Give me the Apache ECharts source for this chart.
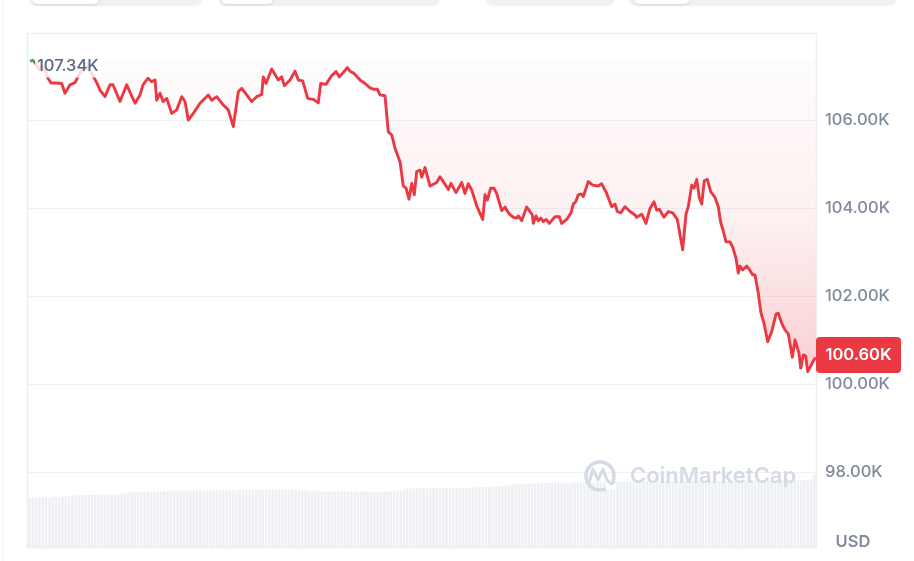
<!DOCTYPE html>
<html><head><meta charset="utf-8">
<script src="https://cdn.jsdelivr.net/npm/echarts@6/dist/echarts.min.js"></script>
<style>html,body{margin:0;padding:0;background:#fff;}#c{width:914px;height:561px;}</style>
</head><body><div id="c"></div>
<script>
// time index across the 24h window (0 = start, 786 = now)
const tIdx = [0,3,6,9,12,15,18,21,26,31.7,35,40,45,50,56.7,61.7,66.7,70,75,80,
83,90,96.7,105,110,113,118,121.7,125,126.7,130,133,136.7,141.7,146.7,151.7,155,158.3,163.3,170,
178.3,181.7,186.7,193.3,198.3,203.3,208.3,211.7,216.7,221.7,226.7,231.7,233.3,236,241.7,248.3,251.7,254.3,260,265,
268.3,272.7,277.7,283.3,288.3,290.7,296,301.7,306,309.3,313.3,317.3,320,324,330,335,340,343.3,347.3,350,
355,358.3,361.7,365,370,373.3,376,379,381.7,384.3,386.7,390,391.7,395,400,406.7,410,413.3,418.3,421,
426,431.7,435,438.3,441.7,446.7,452.7,455,457.3,460.7,464,466.7,471.7,475,479.3,483.3,486.7,488.3,491.7,496.7,
500,502.3,503.3,506,508.3,510.7,513.3,516,519.3,525,529.3,531.7,536.7,541,543.3,545.7,548.3,551,553.3,558.3,
562.7,568.3,571.7,576.7,581.7,585,587.3,590.7,595,600,605,606.7,611.7,616,620,624,626.7,629.3,634,638.3,
642.7,647.3,652.7,656,658.3,661.7,664,666.7,669.3,671.7,674.3,677.3,680.7,685,688.3,690.7,693,696,700,702.7,
706,708.3,710,712.7,716.7,720,722.7,725,728.3,731,734,737.7,741.7,746,748.3,751.7,755,758.3,760,762.3,
765,769,770.7,773.3,775.7,777.7,780.7,784,786];
// price in thousands USD
const prices = [107.34,107.36,107.27,107.14,107.23,107.14,106.95,106.84,106.84,106.83,106.61,106.80,106.85,107.07,107.21,107.06,106.85,106.68,106.53,106.80,
106.80,106.42,106.80,106.38,106.57,106.80,106.95,106.87,106.91,106.45,106.61,106.42,106.49,106.15,106.23,106.53,106.42,106.00,106.15,106.38,
106.57,106.45,106.53,106.34,106.23,105.85,106.64,106.72,106.57,106.42,106.53,106.58,106.98,106.83,107.16,106.91,106.98,106.78,106.91,107.11,
106.91,106.89,106.49,106.47,106.39,106.83,106.81,107.01,107.10,106.98,107.08,107.19,107.11,107.06,106.91,106.83,106.73,106.70,106.70,106.57,
106.55,105.73,105.66,105.36,105.05,104.50,104.45,104.20,104.56,104.30,104.83,104.86,104.70,104.92,104.50,104.58,104.71,104.60,104.42,104.56,
104.35,104.58,104.33,104.55,104.41,104.05,103.74,104.30,104.18,104.45,104.45,104.33,103.94,104.02,103.86,103.79,103.77,103.82,103.71,104.02,
103.92,103.84,103.65,103.82,103.71,103.77,103.69,103.74,103.65,103.80,103.80,103.65,103.74,103.89,104.09,104.14,104.30,104.32,104.26,104.60,
104.52,104.50,104.55,104.33,104.03,104.09,103.92,103.89,104.03,103.92,103.84,103.79,103.86,103.65,103.99,104.14,103.95,103.97,103.79,103.92,
103.89,103.74,103.05,103.86,104.03,104.52,104.45,104.65,104.24,104.09,104.62,104.65,104.37,104.24,104.03,103.67,103.50,103.23,103.23,103.11,
102.86,102.52,102.68,102.59,102.68,102.58,102.48,102.48,102.06,101.61,101.38,100.96,101.19,101.59,101.61,101.38,101.23,101.14,101.15,100.61,
101.00,100.70,100.36,100.66,100.64,100.28,100.41,100.55,100.60];
// 24h volume bars (billions USD)
const volumes = [29.4,29.6,29.5,29.7,30.0,29.8,29.6,30.2,30.3,29.9,30.4,30.3,
30.8,31.0,31.1,30.9,31.2,31.3,31.1,31.4,31.2,31.6,31.5,31.3,31.6,31.5,31.7,31.5,31.8,31.7,
32.6,32.8,32.9,33.0,32.8,33.1,33.2,33.0,33.1,33.3,33.2,33.4,
33.6,33.8,33.9,33.7,34.0,33.9,34.1,33.8,34.0,34.2,33.9,34.0,34.1,33.9,34.0,34.2,34.1,34.0,33.8,34.0,34.1,34.0,
34.2,34.3,34.1,34.4,34.2,34.3,34.5,34.2,34.3,34.1,34.2,34.4,34.3,34.2,34.1,34.3,34.4,34.2,34.0,34.1,34.2,34.0,33.9,33.8,
33.5,33.4,33.3,33.4,33.2,33.3,33.4,33.3,33.2,33.3,33.4,33.3,33.2,33.3,33.4,33.3,33.2,33.3,33.2,33.3,33.4,33.3,33.5,33.4,33.6,33.8,34.2,
35.0,35.2,35.1,35.3,35.4,35.2,35.3,35.5,35.4,35.3,35.5,35.4,35.6,35.5,35.4,35.5,35.6,35.4,35.5,35.7,35.6,35.8,35.9,36.1,36.0,36.2,36.4,36.3,36.6,36.8,37.0,37.2,
37.4,37.6,37.8,37.7,37.9,38.1,38.0,38.2,38.3,38.2,38.4,
38.5,38.6,38.7,38.6,38.8,38.7,38.6,38.8,38.9,38.7,38.8,38.9,38.8,38.7,38.9,39.0,38.9,39.1,39.0,39.2,39.1,39.3,
39.3,39.4,39.5,39.4,39.6,39.5,39.4,39.6,39.7,39.5,39.6,39.7,39.6,39.5,39.7,39.8,39.6,39.7,39.5,39.6,
39.7,39.8,39.6,39.7,39.9,39.8,39.6,39.7,39.8,39.9,39.7,39.8,39.6,39.7,39.9,40.0,39.8,39.9,39.7,39.8,
40.0,39.9,39.8,40.0,40.1,39.9,40.0,39.8,39.9,40.1,40.0,39.9,40.1,40.2,40.0,40.1,40.2,40.3,40.1,
43.2];
const yMin = 96, yMax = 108, yStep = 2;
const openPrice = 107.34;
const lastPrice = 100.60;
const axisLabelText = v => v.toFixed(2) + 'K';

const RED = '#ea3943', GREEN = '#16c784', GREY = '#808a9d';
const chart = echarts.init(document.getElementById('c'), null, {renderer: 'canvas'});
const n = Math.min(tIdx.length, prices.length);
const lineData = [];
for (let i = 0; i < n; i++) lineData.push([tIdx[i], prices[i]]);

const tabs = [[29,174,32,67],[218,222,221,52],[485,130,null,0],[628,269,634,56]];
const tabGraphics = [];
tabs.forEach(t => {
  tabGraphics.push({type:'rect', shape:{x:t[0], y:-14, width:t[1], height:20, r:8}, style:{fill:'#eff2f5'}, z:1});
  if (t[2] !== null) tabGraphics.push({type:'rect', shape:{x:t[2], y:-14, width:t[3], height:18, r:6}, style:{fill:'#ffffff', shadowBlur:3, shadowColor:'rgba(0,0,0,0.12)', shadowOffsetY:1}, z:2});
});

function buildOption(py) {
  const graphics = [
    {type: 'line', shape: {x1: 3, y1: 0, x2: 3, y2: 561}, style: {stroke: '#eef0f3', lineWidth: 1}, z: 1},
    ...tabGraphics,
    {type: 'rect', shape: {x: 27.5, y: 33.5, width: 789, height: 514}, style: {fill: 'none', stroke: '#eceef1', lineWidth: 1.5}, z: 3},
    {type: 'circle', shape: {cx: 600, cy: 476, r: 14}, style: {fill: 'none', stroke: '#d5dbe5', lineWidth: 3.5}, z: 20},
    {type: 'rect', shape: {x: 606, y: 481, width: 10, height: 9}, style: {fill: '#ffffff'}, z: 21},
    {type: 'polyline', shape: {points: [[589,483],[593,469],[598,480],[603,469],[607,480],[611,484],[614,482]]}, style: {fill: 'none', stroke: '#d5dbe5', lineWidth: 3, lineJoin: 'round', lineCap: 'round'}, z: 22},
    {type: 'text', style: {text: 'CoinMarketCap', x: 630, y: 476, verticalAlign: 'middle', font: '600 22px Inter', fill: '#d5dbe5'}, z: 20},
    {type: 'text', style: {text: 'USD', x: 853, y: 542, align: 'center', verticalAlign: 'middle', font: '600 16.5px Inter', fill: GREY}, z: 20},
    {type: 'text', style: {text: axisLabelText(openPrice), x: 35, y: 66, verticalAlign: 'middle', font: '500 16.5px Inter', fill: '#58667e', backgroundColor: 'rgba(255,255,255,0.82)', padding: [3, 3, 3, 2]}, z: 30}
  ];
  if (py != null) {
    graphics.push({type: 'rect', shape: {x: 816, y: py - 20.5, width: 85, height: 36, r: 4}, style: {fill: RED}, z: 40});
    graphics.push({type: 'text', style: {text: axisLabelText(lastPrice), x: 858.5, y: py - 2.5, align: 'center', verticalAlign: 'middle', font: '600 16.5px Inter', fill: '#ffffff'}, z: 41});
  }
  return {
    animation: false,
    backgroundColor: '#ffffff',
    grid: [
      {left: 28, right: 98, top: 32, height: 528},
      {left: 28, right: 98, top: 475, height: 72}
    ],
    xAxis: [
      {type: 'value', gridIndex: 0, min: -2, max: 786, show: false},
      {type: 'category', gridIndex: 1, data: volumes.map((_, i) => i), show: false, boundaryGap: true}
    ],
    yAxis: [
      {type: 'value', gridIndex: 0, min: yMin, max: yMax, interval: yStep, position: 'right',
       axisLine: {show: false}, axisTick: {show: false},
       axisLabel: {margin: 9, color: GREY, fontFamily: 'Inter', fontSize: 16.5, fontWeight: 500,
         formatter: v => (v === yMin || v === yMax) ? '' : axisLabelText(v)},
       splitLine: {show: true, lineStyle: {color: ['rgba(0,0,0,0)','#eff1f4','#eff1f4','#eff1f4','#eff1f4','#eff1f4','rgba(0,0,0,0)'], width: 1}}},
      {type: 'value', gridIndex: 1, min: 0, max: 43.2, show: false}
    ],
    visualMap: {
      show: false, seriesIndex: 0, dimension: 1,
      pieces: [{gt: openPrice, lte: 200, color: GREEN}, {gte: 0, lte: openPrice, color: RED}]
    },
    series: [
      {
        type: 'line', xAxisIndex: 0, yAxisIndex: 0, data: lineData,
        symbol: 'none', smooth: false, z: 5,
        lineStyle: {width: 2.9, join: 'round'},
        areaStyle: {
          origin: openPrice,
          color: new echarts.graphic.LinearGradient(0, 0, 0, 1, [
            {offset: 0, color: 'rgba(234,57,67,0.02)'},
            {offset: 0.5, color: 'rgba(234,57,67,0.10)'},
            {offset: 1, color: 'rgba(234,57,67,0.34)'}
          ])
        }
      },
      {
        type: 'bar', xAxisIndex: 1, yAxisIndex: 1, data: volumes,
        itemStyle: {color: '#eef0f3'}, barCategoryGap: '22%', z: 1, silent: true
      }
    ],
    graphic: graphics
  };
}

chart.setOption(buildOption(null));
const py = chart.convertToPixel({gridIndex: 0}, [786, lastPrice])[1];
chart.setOption(buildOption(py), {replaceMerge: ['graphic']});
</script>
</body></html>
